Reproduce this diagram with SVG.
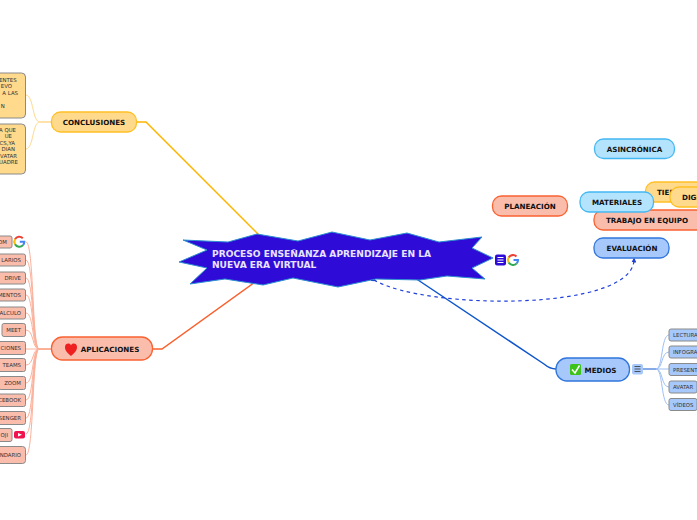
<svg xmlns="http://www.w3.org/2000/svg" width="697" height="520" viewBox="0 0 697 520">
<style>
text{font-family:"DejaVu Sans",sans-serif;font-weight:700;text-anchor:middle;fill:#111}
.m{font-size:7.15px}
.s{font-size:5.4px;font-weight:400;fill:#333;text-anchor:end}
.r{text-anchor:start}
.n{stroke-width:1.3}
.leaf{stroke:#8a8a8a;stroke-width:1}
.y{fill:#ffd98c;stroke:#ffc024}.o{fill:#fbbdab;stroke:#f96232}.b{fill:#b3e3fd;stroke:#44b8f2}.v{fill:#a6c8fb;stroke:#3076dc}
.ly{fill:#ffd98c}.lo{fill:#fbbdab}.lv{fill:#a6c8fb}
</style>
<defs>
<marker id="arr" markerUnits="userSpaceOnUse" markerWidth="5" markerHeight="5" refX="2.500" refY="2.500" orient="auto"><path d="M0 0L5 2.500L0 5z" fill="#1f3fd0"/></marker>
<g id="gicon" fill="none" stroke-width="2.100">
<path d="M3.500-3.500A5 5 0 0 0-4.300-2.500" stroke="#ea4335"/>
<path d="M-4.300-2.500A5 5 0 0 0-4.300 2.500" stroke="#fbbc05"/>
<path d="M-4.300 2.500A5 5 0 0 0 3.700 3.400" stroke="#34a853"/>
<path d="M3.700 3.400A5 5 0 0 0 5 0H0.500" stroke="#4285f4"/>
</g>
</defs>
<g id="connectors" fill="none">
<path d="M137 122H146L262 238" stroke="#ffb400" stroke-width="1.500"/>
<path d="M153 349H162L258 280" stroke="#f9602d" stroke-width="1.500"/>
<path d="M415 278L544 364Q550 369 556 369" stroke="#0f57cc" stroke-width="1.500"/>
<path d="M374 280C425 310 632 312 634 260" stroke="#2040dc" stroke-width="1.200" stroke-dasharray="3.500 3.500" marker-start="url(#arr)" marker-end="url(#arr)"/>
<g stroke="#ffd98c" stroke-width="1"><path d="M51 122H40C32 122 34 96 26 95"/><path d="M51 122H40C32 122 34 148 26 149"/></g>
<g stroke="#fbb09a" stroke-width="1">
<path d="M39 349C32 349 34 242 26 242"/><path d="M39 349C32 349 34 260 26 260"/><path d="M39 349C32 349 34 278 26 278"/><path d="M39 349C32 349 34 295 26 295"/><path d="M39 349C32 349 34 313 26 313"/><path d="M39 349C32 349 34 330 26 330"/><path d="M39 349H26"/><path d="M39 349C32 349 34 365 26 365"/><path d="M39 349C32 349 34 383 26 383"/><path d="M39 349C32 349 34 400 26 400"/><path d="M39 349C32 349 34 418 26 418"/><path d="M39 349C32 349 34 434 26 434"/><path d="M39 349C32 349 34 455 26 455"/>
<path d="M51 349H39" stroke="#f9602d"/></g>
<path d="M643 369H656" stroke="#0f57cc" stroke-width="1"/>
<g stroke="#9dbff5" stroke-width="1"><path d="M656 369C663 369 661 335 669 335"/><path d="M656 369C663 369 661 352 669 352"/><path d="M656 369H669"/><path d="M656 369C663 369 661 387 669 387"/><path d="M656 369C663 369 661 405 669 405"/></g>
</g>
<g id="root"><polygon points="183,240 228,242 257,234 298,241 332,232 370,240 407,233 439,242 482,237 472,248 493,258 472,268 485,279 447,276 420,280 376,279 338,287 293,278 263,285 225,279 190,284 207,268 179,262 207,250" fill="#2f0bd8" stroke="#2c8fd0" stroke-width="1"/>
<text x="212" y="257" style="text-anchor:start;font-size:9.100px;fill:#e8e4ff">PROCESO ENSEÑANZA APRENDIZAJE EN LA</text>
<text x="212" y="268" style="text-anchor:start;font-size:9.100px;fill:#e8e4ff">NUEVA ERA VIRTUAL</text>
<rect x="495" y="254.500" width="11" height="11" rx="2" fill="#2f0bd8"/><path d="M497.500 257.500H503.500M497.500 260H503.500M497.500 262.500H503.500" stroke="#fff" stroke-width="1"/>
<use href="#gicon" x="513" y="260"/></g>
<g id="conclusiones"><rect class="n y" x="51.500" y="112" width="85" height="20" rx="9"/><text class="m" x="94" y="125">CONCLUSIONES</text></g>
<g id="aplicaciones"><rect class="n o" x="51.500" y="337" width="101" height="23" rx="11"/><path d="M71 356C66 352 65 349.500 65 347C65 343 70 342.500 71 345.500C72 342.500 77 343 77 347C77 349.500 76 352 71 356Z" fill="#ee2020"/><text class="m" x="110" y="351.500">APLICACIONES</text></g>
<g id="planeacion"><rect class="n o" x="492.500" y="196" width="75" height="20" rx="9"/><text class="m" x="530" y="209">PLANEACIÓN</text></g>
<g id="asincronica"><rect class="n b" x="594.500" y="139" width="80" height="19.500" rx="9"/><text class="m" x="634.500" y="151.500">ASINCRÓNICA</text></g>
<g id="tiempo"><rect class="n y" x="645.500" y="182" width="70" height="20" rx="9"/><text class="m r" x="657" y="195">TIEMPO</text></g>
<g id="digital"><rect class="n y" x="670" y="187" width="60" height="20" rx="9"/><text class="m r" x="682" y="200">DIGITAL</text></g>
<g id="trabajo"><rect class="n o" x="594" y="210" width="115" height="20" rx="9"/><text class="m" x="647" y="222.500">TRABAJO EN EQUIPO</text></g>
<g id="materiales"><rect class="n b" x="580" y="192" width="73.500" height="20" rx="9"/><text class="m" x="617" y="204.500">MATERIALES</text></g>
<g id="evaluacion"><rect class="n v" x="594" y="238" width="75" height="20" rx="9"/><text class="m" x="632" y="250.500">EVALUACIÓN</text></g>
<g id="medios"><rect class="n v" x="556" y="358" width="73.500" height="23" rx="11"/><rect x="570" y="364" width="11" height="11" rx="1.500" fill="#3cc21a"/><path d="M572 369.500L575 373L579.500 365.500" fill="none" stroke="#fff" stroke-width="1.500"/><text class="m" x="600.500" y="372.500">MEDIOS</text><rect x="632" y="364" width="11" height="10.500" rx="2" fill="#a6c8fb"/><path d="M634.500 366.500H640.500M634.500 369H640.500M634.500 371.500H640.500" stroke="#333" stroke-width="0.800"/></g>
<g id="l1"><rect class="leaf ly" x="-50" y="73" width="75.500" height="45" rx="4"/><text class="s" x="16.700" y="82">ENTES</text><text class="s" x="12" y="88">EVO</text><text class="s" x="18" y="95">A LAS</text><text class="s" x="4.700" y="108">N</text></g>
<g id="l2"><rect class="leaf ly" x="-50" y="124" width="75.500" height="50" rx="4"/><text class="s" x="16" y="132">A QUE</text><text class="s" x="12" y="138">UE</text><text class="s" x="15" y="145">CS,YA</text><text class="s" x="15" y="151">DIAN</text><text class="s" x="17" y="158">VATAR</text><text class="s" x="18" y="164">UADRE</text></g>
<g id="l3"><rect class="leaf lo" x="-40" y="236" width="52" height="12" rx="2"/><text class="s" x="7" y="244">OM</text><use href="#gicon" x="19.300" y="241.700"/></g>
<g id="l4"><rect class="leaf lo" x="-40" y="254" width="65.500" height="12" rx="2"/><text class="s" x="21" y="262">LARIOS</text></g>
<g id="l5"><rect class="leaf lo" x="-40" y="272" width="65.500" height="12" rx="2"/><text class="s" x="21" y="280">DRIVE</text></g>
<g id="l6"><rect class="leaf lo" x="-40" y="289" width="65.500" height="12" rx="2"/><text class="s" x="21" y="297">MENTOS</text></g>
<g id="l7"><rect class="leaf lo" x="-40" y="307" width="65.500" height="12" rx="2"/><text class="s" x="21" y="315">ALCULO</text></g>
<g id="l8"><rect class="leaf lo" x="2" y="323.500" width="23.500" height="13" rx="2"/><text class="s" x="21" y="332">MEET</text></g>
<g id="l9"><rect class="leaf lo" x="-40" y="341.500" width="65.500" height="13" rx="2"/><text class="s" x="21" y="350">CIONES</text></g>
<g id="l10"><rect class="leaf lo" x="-2" y="358.500" width="27.500" height="13" rx="2"/><text class="s" x="21" y="367">TEAMS</text></g>
<g id="l11"><rect class="leaf lo" x="-1" y="376.500" width="26.500" height="13" rx="2"/><text class="s" x="21" y="385">ZOOM</text></g>
<g id="l12"><rect class="leaf lo" x="-40" y="394" width="65.500" height="12.500" rx="2"/><text class="s" x="21" y="402">CEBOOK</text></g>
<g id="l13"><rect class="leaf lo" x="-40" y="411.500" width="65.500" height="13" rx="2"/><text class="s" x="21" y="420">SENGER</text></g>
<g id="l14"><rect class="leaf lo" x="-30" y="428.500" width="42" height="13" rx="2"/><text class="s" x="8" y="437">OJI</text><rect x="14" y="431" width="11" height="7.500" rx="2" fill="#f0134e"/><path d="M18 433L22 434.700L18 436.500z" fill="#fff"/></g>
<g id="l15"><rect class="leaf lo" x="-40" y="446.500" width="65.500" height="17" rx="3"/><text class="s" x="21" y="457">NDARIO</text></g>
<g id="l16"><rect class="leaf lv" x="669" y="329" width="50" height="12" rx="2"/><text class="s r" x="673" y="337">LECTURA</text></g>
<g id="l17"><rect class="leaf lv" x="669" y="346" width="50" height="12" rx="2"/><text class="s r" x="673" y="354">INFOGRAFÍA</text></g>
<g id="l18"><rect class="leaf lv" x="669" y="363.500" width="50" height="12" rx="2"/><text class="s r" x="673" y="371.500">PRESENTACIÓN</text></g>
<g id="l19"><rect class="leaf lv" x="669" y="381" width="28" height="12" rx="2"/><text class="s r" x="673" y="389">AVATAR</text></g>
<g id="l20"><rect class="leaf lv" x="669" y="398.500" width="28" height="12" rx="2"/><text class="s r" x="673" y="406.500">VÍDEOS</text></g>
</svg>
